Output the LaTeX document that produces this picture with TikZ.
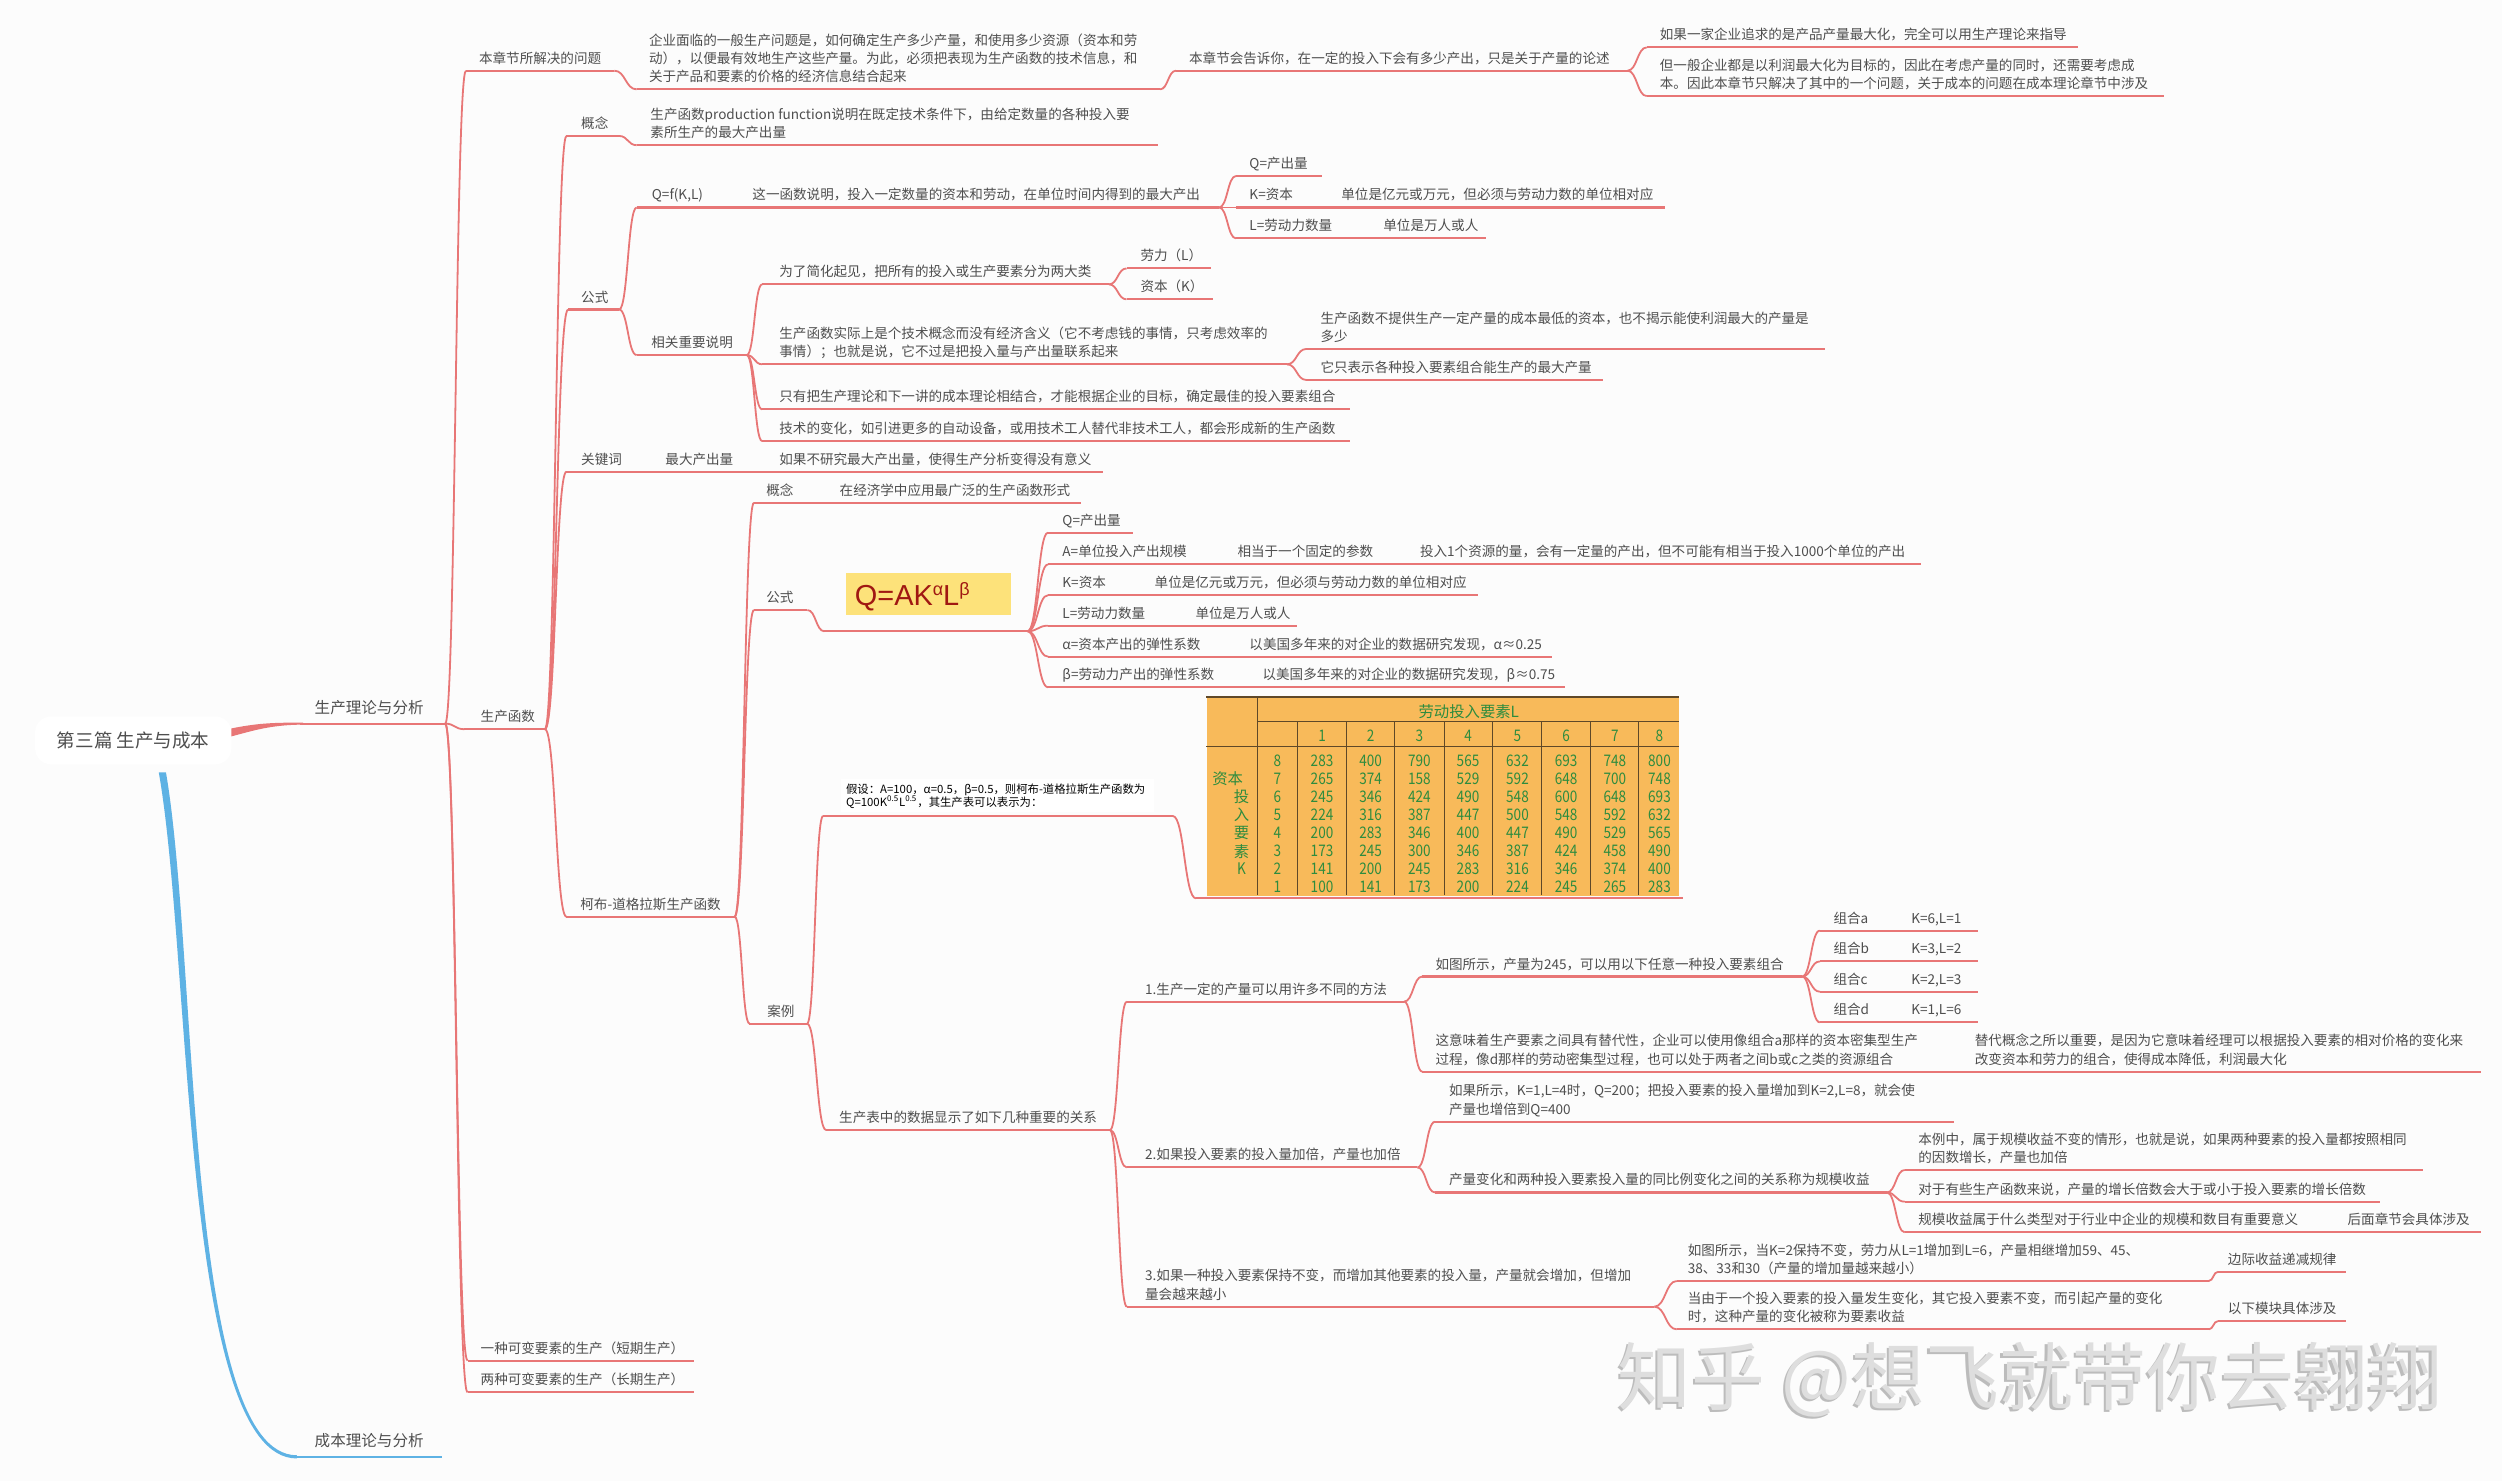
\documentclass[tikz,border=0pt]{standalone}
\usepackage{fontspec}
\setmainfont{Noto Sans CJK SC}
\newfontfamily\tabfont{Noto Sans CJK SC}[FakeStretch=0.85]
\newfontfamily\formfont{Liberation Sans}
\usetikzlibrary{calc}
\definecolor{redln}{RGB}{232,118,118}
\definecolor{blueln}{RGB}{94,178,228}
\definecolor{txtc}{RGB}{78,78,78}
\definecolor{bgc}{RGB}{252,252,252}
\definecolor{tabor}{RGB}{248,186,90}
\definecolor{tabgr}{RGB}{46,140,62}
\definecolor{tabln}{RGB}{95,72,40}
\definecolor{formbg}{RGB}{253,226,122}
\definecolor{formtx}{RGB}{160,24,18}
\definecolor{wmgray}{RGB}{188,188,188}
\definecolor{wmfront}{RGB}{222,222,222}
\tikzset{
  ul/.style={draw=redln, line width=1.1pt},
  ln/.style={draw=redln, line width=0.9pt},
  txt/.style={anchor=south west, inner sep=0pt, align=left, text=txtc, font=\fontsize{6.8}{9.2}\selectfont},
  lonetxt/.style={anchor=south west, inner sep=0pt, text=txtc, font=\fontsize{7.8}{10}\selectfont},
  rootbox/.style={fill=white, rounded corners=8pt, minimum width=98.4pt, minimum height=24pt, inner sep=0pt, text=txtc, font=\fontsize{9.3}{11}\selectfont},
  tabnum/.style={inner sep=0pt, text=tabgr, font=\tabfont\fontsize{8}{8}\selectfont},
  tabcjk/.style={inner sep=0pt, text=tabgr, font=\fontsize{7.7}{8}\selectfont},
  tabline/.style={draw=tabln, line width=0.45pt},
  hyptxt/.style={anchor=south west, inner sep=0pt, align=left, text=black, font=\fontsize{5.7}{6.6}\selectfont},
  wmtxt/.style={anchor=west, inner sep=0pt, font=\fontsize{37}{40}\selectfont}
}
\newcommand\mmnode[6]{%
  \coordinate (#1-s) at (#2,#5);
  \coordinate (#1-e) at (#4,#5);
  \draw[ul] (#1-s) -- (#1-e);
  \node[txt] (#1) at (#3,#5-1) {#6\strut};}
\newcommand\mmconn[2]{\draw[ln] let \p1=(#1-e), \p2=(#2-s) in (\p1) .. controls ({0.5*\x1+0.5*\x2},\y1) and ({0.5*\x1+0.5*\x2},\y2) .. (\p2);}
\newcommand\mmconns[2]{\foreach \cc in {#2} {\mmconn{#1}{\cc}}}
\begin{document}
\begin{tikzpicture}[x=0.8pt, y=-0.8pt]
\fill[bgc] (0,0) rectangle (1568,928);
\useasboundingbox (0,0) rectangle (1568,928);

% root
\node[rootbox] (root) at (83.5,464) {第三篇 生产与成本};

% level 1: production (red)
\fill[redln] (145,456.5) .. controls (160,453.5) and (170,452.7) .. (190,452.9) -- (190,454.1) .. controls (170,454.3) and (160,457.5) .. (145,461.5) -- cycle;
\coordinate (a1-s) at (188,453.5);
\coordinate (a1-e) at (279,453.5);
\draw[ul] (a1-s) -- (a1-e);
\node[lonetxt] (a1) at (197,451) {生产理论与分析\strut};

% level 1: cost (blue)
\fill[blueln] (99.5,484) .. controls (120,600) and (114,914) .. (186,914) -- (186,912) .. controls (116,912) and (124,600) .. (104,484) -- cycle;
\coordinate (a2-s) at (185,913);
\coordinate (a2-e) at (277,913);
\draw[draw=blueln, line width=1.2pt] (a2-s) -- (a2-e);
\node[lonetxt] (a2) at (197,910.5) {成本理论与分析\strut};

% level 2
\mmnode{b1}{292}{300}{385}{44.3}{本章节所解决的问题}
\mmnode{b2}{291}{301}{341.5}{457}{生产函数}
\mmnode{b3}{293}{301}{435}{852.7}{一种可变要素的生产（短期生产）}
\mmnode{b4}{293}{301}{435}{872.6}{两种可变要素的生产（长期生产）}
\mmconns{a1}{b1,b2,b3,b4}

% chapter problem branch
\mmnode{c1}{399}{406.5}{727}{56}{企业面临的一般生产问题是，如何确定生产多少产量，和使用多少资源（资本和劳\\动），以便最有效地生产这些产量。为此，必须把表现为生产函数的技术信息，和\\关于产品和要素的价格的经济信息结合起来}
\mmnode{d1}{737}{745}{1020}{44.3}{本章节会告诉你，在一定的投入下会有多少产出，只是关于产量的论述}
\mmnode{e1}{1032}{1040}{1302}{29.7}{如果一家企业追求的是产品产量最大化，完全可以用生产理论来指导}
\mmnode{e2}{1032}{1040}{1356}{60.2}{但一般企业都是以利润最大化为目标的，因此在考虑产量的同时，还需要考虑成\\本。因此本章节只解决了其中的一个问题，关于成本的问题在成本理论章节中涉及}
\mmconn{b1}{c1}
\mmconn{c1}{d1}
\mmconns{d1}{e1,e2}

% production function branch
\mmnode{c2}{355}{364}{388}{85.2}{概念}
\mmnode{c2a}{399}{407.4}{725.5}{91}{生产函数production function说明在既定技术条件下，由给定数量的各种投入要\\素所生产的最大产出量}
\mmnode{c3}{356}{364}{388}{194}{公式}
\mmnode{c3a}{399}{408.3}{465}{130}{Q=f(K,L)}
\mmnode{c3b}{465}{471.3}{764}{130}{这一函数说明，投入一定数量的资本和劳动，在单位时间内得到的最大产出}
\mmnode{q1}{774.6}{782.8}{828.5}{110.3}{Q=产出量}
\mmnode{q2}{774.6}{782.8}{834}{130}{K=资本}
\mmnode{q2b}{834}{840.4}{1043.5}{130}{单位是亿元或万元，但必须与劳动力数的单位相对应}
\mmnode{q3}{774.6}{782.8}{860}{149.4}{L=劳动力数量}
\mmnode{q3b}{860}{866.7}{931.3}{149.4}{单位是万人或人}
\mmnode{c4}{399}{408}{468}{222.5}{相关重要说明}
\mmnode{d2}{477.6}{488.2}{695}{178.2}{为了简化起见，把所有的投入或生产要素分为两大类}
\mmnode{d2a}{706}{714.5}{758.7}{168.2}{劳力（L）}
\mmnode{d2b}{706}{714.5}{760}{187.6}{资本（K）}
\mmnode{d3}{477.6}{488.2}{806.6}{228.3}{生产函数实际上是个技术概念而没有经济含义（它不考虑钱的事情，只考虑效率的\\事情）；也就是说，它不过是把投入量与产出量联系起来}
\mmnode{d3a}{818.6}{827.3}{1143.5}{218.7}{生产函数不提供生产一定产量的成本最低的资本，也不揭示能使利润最大的产量是\\多少}
\mmnode{d3b}{818.6}{827.3}{1004.6}{238.1}{它只表示各种投入要素组合能生产的最大产量}
\mmnode{d4}{477.6}{488.2}{845.8}{256.5}{只有把生产理论和下一讲的成本理论相结合，才能根据企业的目标，确定最佳的投入要素组合}
\mmnode{d5}{477.6}{488.2}{845.8}{276.4}{技术的变化，如引进更多的自动设备，或用技术工人替代非技术工人，都会形成新的生产函数}
\mmnode{c5}{355}{364}{410}{295.6}{关键词}
\mmnode{c5a}{410}{416.8}{482}{295.6}{最大产出量}
\mmnode{c5b}{482}{488.2}{691.2}{295.6}{如果不研究最大产出量，使得生产分析变得没有意义}
\mmnode{c6}{355}{363.5}{460.4}{574.5}{柯布-道格拉斯生产函数}
\mmconns{b2}{c2,c3,c5,c6}
\mmconn{c2}{c2a}
\mmconns{c3}{c3a,c4}
\mmconn{c3a}{c3b}
\mmconns{c3b}{q1,q2,q3}
\mmconn{q2}{q2b}
\mmconn{q3}{q3b}
\mmconns{c4}{d2,d3,d4,d5}
\mmconns{d2}{d2a,d2b}
\mmconns{d3}{d3a,d3b}
\mmconn{c5}{c5a}
\mmconn{c5a}{c5b}

% Cobb-Douglas branch
\mmnode{f1}{472.5}{480}{520}{315}{概念}
\mmnode{f1a}{520}{526}{677.7}{315}{在经济学中应用最广泛的生产函数形式}
\mmnode{f2}{472.5}{480}{506}{382.3}{公式}
\coordinate (f2a-s) at (516.6,395.6);
\coordinate (f2a-e) at (644,395.6);
\draw[ul] (f2a-s) -- (f2a-e);
\node[fill=formbg, inner sep=0pt, minimum width=82.9pt, minimum height=21.2pt] (formbox) at (581.8,372.2) {};
\node[anchor=base west, inner sep=0pt, text=formtx, font=\formfont\fontsize{14.5}{14.5}\selectfont] (form) at (535.5,379.2) {Q=AK\raisebox{5pt}{\fontsize{9}{9}\selectfont α}L\raisebox{5pt}{\fontsize{9}{9}\selectfont β}};
\mmnode{g1}{656.8}{665.6}{710}{333.8}{Q=产出量}
\mmnode{g2}{656.8}{665.6}{768}{353.7}{A=单位投入产出规模}
\mmnode{g2b}{768}{775.3}{882}{353.7}{相当于一个固定的参数}
\mmnode{g2c}{882}{889.7}{1204}{353.7}{投入1个资源的量，会有一定量的产出，但不可能有相当于投入1000个单位的产出}
\mmnode{g3}{656.8}{665.6}{716}{373}{K=资本}
\mmnode{g3b}{716}{723.4}{926}{373}{单位是亿元或万元，但必须与劳动力数的单位相对应}
\mmnode{g4}{656.8}{665.6}{742}{392.1}{L=劳动力数量}
\mmnode{g4b}{742}{749}{813}{392.1}{单位是万人或人}
\mmnode{g5}{656.8}{665.6}{776}{411.5}{α=资本产出的弹性系数}
\mmnode{g5b}{776}{782.8}{972.4}{411.5}{以美国多年来的对企业的数据研究发现，α≈0.25}
\mmnode{g6}{656.8}{665.6}{784}{430.7}{β=劳动力产出的弹性系数}
\mmnode{g6b}{784}{791}{980.7}{430.7}{以美国多年来的对企业的数据研究发现，β≈0.75}
\mmnode{f3}{469.7}{480.6}{505.8}{641.5}{案例}
\mmconns{c6}{f1,f2,f3}
\mmconn{f1}{f1a}
\mmconn{f2}{f2a}
\mmconns{f2a}{g1,g2,g3,g4,g5,g6}
\mmconn{g2}{g2b}
\mmconn{g2b}{g2c}
\mmconn{g3}{g3b}
\mmconn{g4}{g4b}
\mmconn{g5}{g5b}
\mmconn{g6}{g6b}

% hypothesis + table
\coordinate (h1-s) at (515.8,511.4);
\coordinate (h1-e) at (735,511.4);
\draw[ul] (h1-s) -- (h1-e);
\fill[white] (527,488) rectangle (723,509);
\node[hyptxt] (hyp) at (530,508.2) {假设：A=100，α=0.5，β=0.5，则柯布-道格拉斯生产函数为\\Q=100K\textsuperscript{0.5}L\textsuperscript{0.5}，其生产表可以表示为：\strut};
\coordinate (h1t-s) at (749.5,563);
\coordinate (h1t-e) at (1055,563);
\draw[ul] (h1t-s) -- (h1t-e);
\node[fill=tabor, inner sep=0pt, minimum width=236.8pt, minimum height=99.2pt, anchor=north west] (tbl) at (756,437) {};
\draw[tabline, line width=1pt] (756,437) -- (1052,437);
\draw[tabline] (788,437) -- (788,561);
\draw[tabline] (788,452.3) -- (1052,452.3);
\draw[tabline] (756,468) -- (1052,468);
\foreach \xx in {813,844,874,905,935.5,966,997,1027} {\draw[tabline] (\xx,452.3) -- (\xx,561);}
\node[tabcjk] (thead) at (920.5,446) {劳动投入要素L};
\def\colx{{800.5,828.5,859,889.5,920,951,981.5,1012,1040}}
\foreach \k in {1,...,8} {
  \pgfmathsetmacro\cx{\colx[\k]}
  \node[tabnum] (th\k) at (\cx,461) {\k};
}
\foreach \row [count=\i] in {{8,283,400,790,565,632,693,748,800},{7,265,374,158,529,592,648,700,748},{6,245,346,424,490,548,600,648,693},{5,224,316,387,447,500,548,592,632},{4,200,283,346,400,447,490,529,565},{3,173,245,300,346,387,424,458,490},{2,141,200,245,283,316,346,374,400},{1,100,141,173,200,224,245,265,283}} {
  \foreach \v [count=\j] in \row {
    \pgfmathsetmacro\cx{\colx[\j-1]}
    \pgfmathsetmacro\cy{476.7+(\i-1)*11.32}
    \node[tabnum] (t\i-\j) at (\cx,\cy) {\v};
  }
}
\node[tabcjk] (tk1) at (769.4,488) {资本};
\node[tabcjk] (tk2) at (778,499.3) {投};
\node[tabcjk] (tk3) at (778,510.8) {入};
\node[tabcjk] (tk4) at (778,522) {要};
\node[tabcjk] (tk5) at (778,533.4) {素};
\node[tabnum] (tk6) at (778,544.6) {K};

% relations
\mmnode{h2}{517.7}{525.7}{695.6}{708.2}{生产表中的数据显示了如下几种重要的关系}
\mmconns{f3}{h1,h2}
\mmconn{h1}{h1t}
\mmnode{i1}{706.2}{717.4}{880}{627.7}{1.生产一定的产量可以用许多不同的方法}
\mmnode{j1}{891.3}{899.4}{1129.4}{612}{如图所示，产量为245，可以用以下任意一种投入要素组合}
\mmnode{k1}{1140.5}{1148.8}{1190}{583.2}{组合a}
\mmnode{k1b}{1190}{1197.6}{1239.6}{583.2}{K=6,L=1}
\mmnode{k2}{1140.5}{1148.8}{1190}{602.5}{组合b}
\mmnode{k2b}{1190}{1197.6}{1239.6}{602.5}{K=3,L=2}
\mmnode{k3}{1140.5}{1148.8}{1190}{621.5}{组合c}
\mmnode{k3b}{1190}{1197.6}{1239.6}{621.5}{K=2,L=3}
\mmnode{k4}{1140.5}{1148.8}{1190}{640.7}{组合d}
\mmnode{k4b}{1190}{1197.6}{1239.6}{640.7}{K=1,L=6}
\mmnode{j2}{891.3}{899.4}{1228}{671.6}{这意味着生产要素之间具有替代性，企业可以使用像组合a那样的资本密集型生产\\过程，像d那样的劳动密集型过程，也可以处于两者之间b或c之类的资源组合}
\mmnode{j2b}{1228}{1237.4}{1555}{671.6}{替代概念之所以重要，是因为它意味着经理可以根据投入要素的相对价格的变化来\\改变资本和劳力的组合，使得成本降低，利润最大化}
\mmnode{i2}{706.2}{717.4}{888.3}{731.6}{2.如果投入要素的投入量加倍，产量也加倍}
\mmnode{j3}{899.3}{907.9}{1224.6}{703}{如果所示，K=1,L=4时，Q=200；把投入要素的投入量增加到K=2,L=8，就会使\\产量也增倍到Q=400}
\mmnode{j4}{899.3}{907.9}{1182.5}{747.3}{产量变化和两种投入要素投入量的同比例变化之间的关系称为规模收益}
\mmnode{k5}{1193.7}{1202}{1518.5}{733.2}{本例中，属于规模收益不变的情形，也就是说，如果两种要素的投入量都按照相同\\的因数增长，产量也加倍}
\mmnode{k6}{1193.7}{1202}{1491.6}{753.1}{对于有些生产函数来说，产量的增长倍数会大于或小于投入要素的增长倍数}
\mmnode{k7}{1193.7}{1202}{1462}{772.3}{规模收益属于什么类型对于行业中企业的规模和数目有重要意义}
\mmnode{k7b}{1462}{1471}{1555}{772.3}{后面章节会具体涉及}
\mmnode{i3}{706.2}{717.4}{1036.8}{818.9}{3.如果一种投入要素保持不变，而增加其他要素的投入量，产量就会增加，但增加\\量会越来越小}
\mmnode{j5}{1050.8}{1057.5}{1384.2}{802.8}{如图所示，当K=2保持不变，劳力从L=1增加到L=6，产量相继增加59、45、\\38、33和30（产量的增加量越来越小）}
\mmnode{j5b}{1390}{1396}{1470}{797}{边际收益递减规律}
\mmnode{j6}{1050.8}{1057.5}{1384.2}{833.1}{当由于一个投入要素的投入量发生变化，其它投入要素不变，而引起产量的变化\\时，这种产量的变化被称为要素收益}
\mmnode{j6b}{1390}{1396}{1470}{827.9}{以下模块具体涉及}
\mmconns{h2}{i1,i2,i3}
\mmconns{i1}{j1,j2}
\mmconns{j1}{k1,k2,k3,k4}
\mmconn{k1}{k1b}
\mmconn{k2}{k2b}
\mmconn{k3}{k3b}
\mmconn{k4}{k4b}
\mmconn{j2}{j2b}
\mmconns{i2}{j3,j4}
\mmconns{j4}{k5,k6,k7}
\mmconn{k7}{k7b}
\mmconns{i3}{j5,j6}
\mmconn{j5}{j5b}
\mmconn{j6}{j6b}

% watermark
\node[wmtxt, text=wmgray] (wm1) at (1012,866) {知乎 @想飞就带你去翱翔};
\node[wmtxt, text=wmfront] (wm2) at (1013.5,864.8) {知乎 @想飞就带你去翱翔};
\end{tikzpicture}
\end{document}
